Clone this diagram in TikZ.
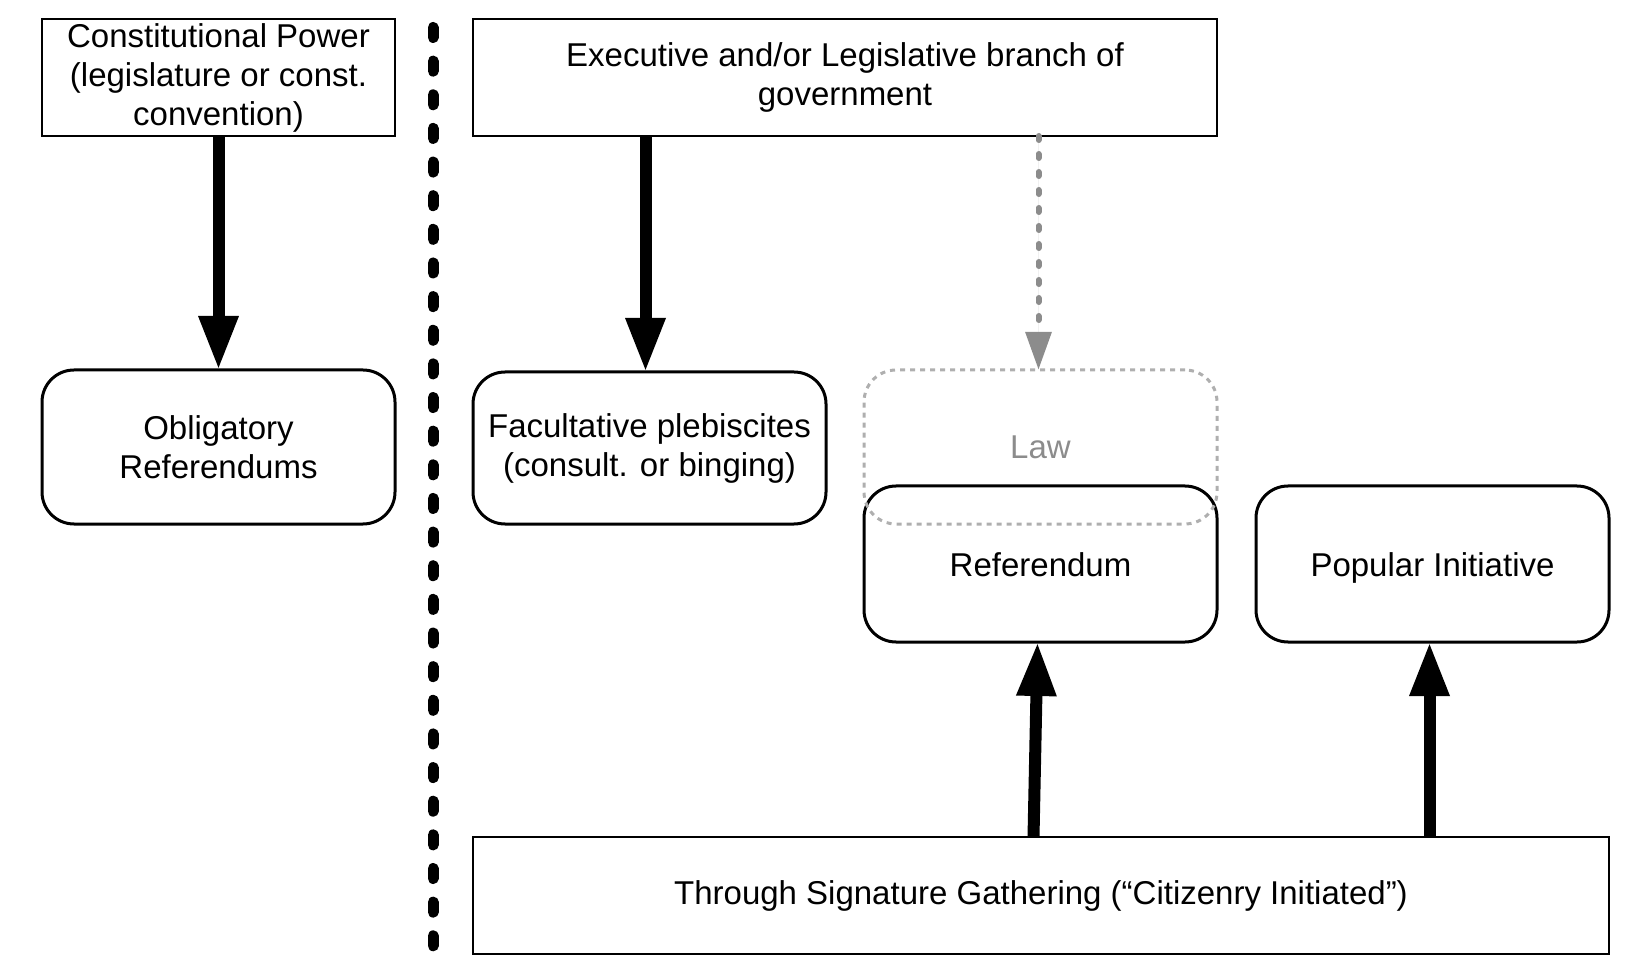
\documentclass[tikz,border=0pt]{standalone}
\usepackage{fontspec}
\setmainfont{Liberation Sans}
\usetikzlibrary{arrows.meta}
\definecolor{lawgray}{HTML}{8C8C8C}
\definecolor{borgray}{HTML}{AFAFAF}
\tikzset{
  sqbox/.style={draw, line width=1pt, inner sep=0pt, outer sep=0pt,
    minimum width=176.5pt, minimum height=58.5pt, align=center,
    font=\fontsize{16.5}{19.5}\selectfont},
  rbox/.style={sqbox, rounded corners=16pt, line width=1.5pt, minimum height=77pt},
  oneline/.style={text height=12pt, text depth=0pt},
  bigarrow/.style={line width=6pt, -{Triangle[width=18.5pt,length=27pt]}},
  grayarrow/.style={draw=lawgray, fill=lawgray, line width=3pt, line cap=round,
    dash pattern=on 2pt off 7pt, -{Triangle[width=12.5pt,length=19pt]}},
  sepline/.style={line width=5.5pt, line cap=round, dash pattern=on 5pt off 11.82pt},
  lawbox/.style={rbox, draw=borgray, dash pattern=on 2.5pt off 2.5pt, text=lawgray}
}
\begin{document}
\begin{tikzpicture}[x=0.5pt,y=-0.5pt]
\useasboundingbox (0,0) rectangle (1637,972);
% separator
\coordinate (septop) at (433,27.5);
\coordinate (sepbot) at (433,946);
\draw[sepline] (septop) -- (sepbot);
% nodes
\node[sqbox] (const) at (218.5,77.5) {Constitutional Power\\(legislature or const.\\convention)};
\node[sqbox, minimum width=372pt] (exec) at (845,77.5) {Executive and/or Legislative branch of\\government};
\node[rbox] (oblig) at (218.5,447) {Obligatory\\Referendums};
\node[rbox, minimum height=76pt] (facult) at (649.5,448) {Facultative plebiscites\\(consult. or binging)};
\node[rbox, oneline, minimum height=78pt] (ref) at (1040.5,564) {Referendum};
\node[lawbox, oneline] (law) at (1040.5,447) {Law};
\node[rbox, oneline, minimum height=78pt] (pop) at (1432.5,564) {Popular Initiative};
\node[sqbox, minimum width=568pt] (sig) at (1041,895.5) {Through Signature Gathering (“Citizenry Initiated”)};
% connectors
\draw[bigarrow] (const.south) -- (oblig.north);
\draw[bigarrow] ([xshift=-2pt]facult.north |- exec.south) -- ([xshift=-2pt]facult.north);
\draw[grayarrow] ([xshift=-1pt]law.north |- exec.south) -- ([xshift=-1pt]law.north);
\draw[bigarrow] ([xshift=-3.5pt]ref.south |- sig.north) -- ([xshift=-1.5pt]ref.south);
\draw[bigarrow] ([xshift=-1.5pt]pop.south |- sig.north) -- ([xshift=-1.5pt]pop.south);
\end{tikzpicture}
\end{document}
